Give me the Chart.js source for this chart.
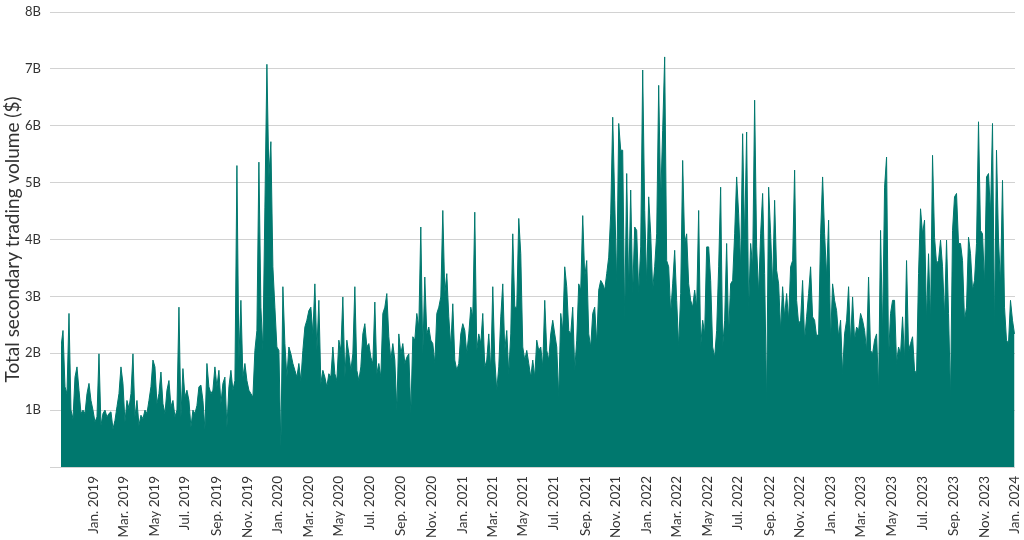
<!DOCTYPE html>
<html>
<head>
<meta charset="utf-8">
<script src="https://cdn.jsdelivr.net/npm/chart.js@4.4.0/dist/chart.umd.min.js"></script>
<style>
  html, body { margin: 0; padding: 0; background: #fff; }
</style>
</head>
<body>
<canvas id="chart" width="1024" height="540"></canvas>
<script>
// first and last sample of the series (samples are evenly spaced between them)
const firstDay = '2018-10-28';
const lastDay = '2023-12-31';
const axisEnd = '2024-01-01';

// total secondary trading volume, billions of $
const volume = [
  2.11, 2.40, 1.41, 1.29, 2.70, 1.00, 0.85, 1.58, 1.76, 1.35,
  0.94, 1.00, 0.94, 1.29, 1.47, 1.17, 1.00, 0.79, 0.88, 1.99,
  0.73, 0.94, 1.00, 0.88, 0.94, 0.97, 0.67, 0.82, 1.06, 1.29,
  1.76, 1.47, 0.79, 1.17, 1.03, 1.29, 1.99, 0.88, 1.17, 0.73,
  0.91, 0.85, 1.00, 0.94, 1.17, 1.41, 1.88, 1.76, 1.11, 1.29,
  1.67, 1.11, 0.94, 1.35, 1.52, 1.06, 1.17, 0.88, 1.00, 2.81,
  0.88, 1.73, 1.23, 1.35, 1.17, 0.70, 1.00, 0.94, 1.08, 1.41,
  1.44, 1.17, 0.67, 1.82, 1.41, 1.29, 1.35, 1.76, 1.41, 1.70,

  1.11, 1.47, 1.58, 0.70, 1.41, 1.70, 1.35, 1.52, 5.30, 1.88,
  2.93, 1.58, 1.82, 1.52, 1.35, 1.29, 1.23, 2.05, 2.40, 5.36,
  2.81, 2.05, 4.57, 7.08, 5.10, 5.72, 3.52, 2.81, 2.11, 2.05,
  0.35, 3.17, 2.17, 1.58, 2.11, 1.99, 1.82, 1.70, 1.58, 1.82,
  1.52, 2.05, 2.46, 2.58, 2.75, 2.81, 2.34, 3.22, 2.05, 2.93,
  1.47, 1.70, 1.58, 1.41, 1.64, 1.58, 2.11, 1.64, 1.52, 2.23,
  2.05, 2.99, 1.58, 2.23, 1.99, 1.70, 1.99, 3.17, 1.70, 1.52,
  1.76, 2.34, 2.52, 2.11, 2.17, 1.93, 1.82, 2.90, 1.64, 1.82,

  1.58, 2.70, 2.81, 3.05, 2.29, 1.88, 2.17, 1.88, 1.00, 2.34,
  1.99, 2.17, 1.82, 1.93, 1.99, 0.94, 2.29, 2.23, 2.70, 2.46,
  4.22, 1.99, 3.34, 2.34, 2.46, 2.23, 2.17, 1.82, 2.70, 2.81,
  2.99, 4.51, 3.05, 3.40, 2.64, 2.11, 2.87, 1.88, 1.70, 1.82,
  2.34, 2.52, 2.40, 1.99, 2.34, 2.81, 2.64, 4.48, 2.05, 2.34,
  2.17, 2.70, 1.76, 1.88, 2.34, 1.70, 3.17, 1.88, 1.35, 1.76,
  2.64, 3.22, 2.05, 2.40, 1.64, 2.34, 4.10, 2.81, 2.81, 4.37,
  3.75, 2.11, 1.88, 2.05, 1.82, 1.58, 1.88, 1.58, 2.23, 2.05,

  2.11, 1.76, 2.93, 2.05, 1.88, 2.34, 2.58, 2.34, 2.11, 1.23,
  2.70, 2.40, 3.52, 3.17, 2.40, 2.34, 2.81, 1.70, 2.23, 3.22,
  3.11, 4.42, 3.34, 3.63, 2.34, 2.11, 2.70, 2.81, 2.17, 3.11,
  3.28, 3.22, 3.11, 3.40, 3.69, 4.45, 6.15, 4.69, 3.22, 6.04,
  5.57, 5.57, 2.58, 5.16, 3.11, 4.87, 3.05, 4.22, 4.16, 3.05,
  3.87, 6.98, 4.51, 3.22, 4.75, 4.10, 3.11, 3.52, 4.10, 6.71,
  4.69, 5.92, 7.21, 3.63, 3.52, 2.70, 3.22, 3.81, 2.93, 2.11,
  3.05, 5.39, 3.93, 4.10, 3.22, 2.93, 2.81, 3.11, 2.81, 4.51,

  2.11, 2.58, 2.34, 3.87, 3.87, 3.28, 2.11, 1.93, 2.40, 3.52,
  4.92, 2.11, 2.58, 3.93, 2.34, 3.22, 3.28, 4.10, 5.10, 4.45,
  3.52, 5.86, 3.99, 5.89, 2.75, 3.93, 3.52, 6.45, 3.87, 3.05,
  4.10, 4.81, 3.40, 1.11, 4.92, 4.10, 3.17, 4.69, 3.46, 3.22,
  2.40, 3.17, 2.64, 3.05, 2.58, 3.52, 3.63, 5.22, 2.93, 2.52,
  2.58, 3.28, 2.23, 2.64, 3.05, 3.52, 2.64, 2.58, 2.29, 2.34,
  4.10, 5.10, 4.10, 3.34, 4.34, 2.23, 3.22, 2.93, 2.75, 2.29,
  2.58, 1.64, 2.34, 2.58, 3.17, 2.17, 2.99, 2.23, 2.46, 2.40,

  2.70, 2.58, 2.40, 2.05, 3.34, 2.05, 1.99, 2.23, 2.34, 1.35,
  4.16, 2.34, 4.92, 5.45, 1.93, 2.70, 2.93, 2.93, 1.82, 2.11,
  1.99, 2.64, 1.88, 3.63, 2.05, 2.17, 2.29, 1.70, 1.64, 3.40,
  4.54, 4.10, 4.34, 2.58, 3.75, 2.58, 5.48, 4.04, 3.58, 3.63,
  3.99, 3.52, 2.64, 3.99, 2.70, 1.23, 4.16, 4.75, 4.81, 3.93,
  3.93, 3.63, 2.58, 2.81, 4.04, 3.75, 3.11, 3.28, 3.93, 6.07,
  4.16, 4.10, 3.22, 5.10, 5.16, 4.45, 6.04, 2.46, 5.57, 3.99,
  3.22, 5.04, 2.81, 2.23, 2.17, 2.93, 2.58, 2.34
];

// x axis ticks
const tickDates = [
  '2019-01-01', '2019-03-01', '2019-05-01', '2019-07-01', '2019-09-01', '2019-11-01',
  '2020-01-01', '2020-03-01', '2020-05-01', '2020-07-01', '2020-09-01', '2020-11-01',
  '2021-01-01', '2021-03-01', '2021-05-01', '2021-07-01', '2021-09-01', '2021-11-01',
  '2022-01-01', '2022-03-01', '2022-05-01', '2022-07-01', '2022-09-01', '2022-11-01',
  '2023-01-01', '2023-03-01', '2023-05-01', '2023-07-01', '2023-09-01', '2023-11-01',
  '2024-01-01'
];
const tickLabels = [
  'Jan. 2019', 'Mar. 2019', 'May 2019', 'Jul. 2019', 'Sep. 2019', 'Nov. 2019',
  'Jan. 2020', 'Mar. 2020', 'May 2020', 'Jul. 2020', 'Sep. 2020', 'Nov. 2020',
  'Jan. 2021', 'Mar. 2021', 'May 2021', 'Jul. 2021', 'Sep. 2021', 'Nov. 2021',
  'Jan. 2022', 'Mar. 2022', 'May 2022', 'Jul. 2022', 'Sep. 2022', 'Nov. 2022',
  'Jan. 2023', 'Mar. 2023', 'May 2023', 'Jul. 2023', 'Sep. 2023', 'Nov. 2023',
  'Jan. 2024'
];

const TEAL = '#00786e';
const DAY = 86400000;
const base = Date.parse('2019-01-01');
const dayOf = (s) => (Date.parse(s) - base) / DAY;

const d0 = dayOf(firstDay);
const d1 = dayOf(lastDay);
const step = (d1 - d0) / (volume.length - 1);
const points = volume.map((v, i) => ({ x: d0 + i * step, y: v }));
const tickDays = tickDates.map(dayOf);

Chart.defaults.font.family = 'Lato, "Noto Sans", sans-serif';
Chart.defaults.font.size = 13;
Chart.defaults.color = '#333';

new Chart(document.getElementById('chart'), {
  type: 'line',
  data: {
    datasets: [{
      data: points,
      fill: 'origin',
      backgroundColor: TEAL,
      borderColor: TEAL,
      borderWidth: 1,
      pointRadius: 0,
      tension: 0
    }]
  },
  options: {
    responsive: false,
    animation: false,
    devicePixelRatio: 1,
    layout: { padding: { top: 12, right: 9, left: 0, bottom: 0 } },
    plugins: {
      legend: { display: false },
      tooltip: { enabled: false }
    },
    scales: {
      x: {
        type: 'linear',
        min: d0,
        max: dayOf(axisEnd),
        afterBuildTicks: (s) => { s.ticks = tickDays.map(v => ({ value: v })); },
        // keep the plot edges where the reference has them
        afterFit: (s) => { s.height = 73; s.paddingLeft = 0; s.paddingRight = 0; },
        grid: { display: false, drawTicks: false },
        border: { display: false },
        ticks: {
          autoSkip: false,
          maxRotation: 90,
          minRotation: 90,
          padding: 9,
          font: { size: 13.5 },
          callback: (v, i) => tickLabels[i]
        }
      },
      y: {
        min: 0,
        max: 8,
        afterFit: (s) => { s.width = 61; s.paddingTop = 0; s.paddingBottom = 0; },
        grid: { color: '#d2d2d2', drawTicks: true, tickLength: 11 },
        border: { display: false },
        ticks: {
          stepSize: 1,
          padding: 9,
          callback: (v) => v ? v + 'B' : ''
        },
        title: {
          display: true,
          text: 'Total secondary trading volume ($)',
          font: { size: 19 },
          padding: { top: 1, bottom: 2 }
        }
      }
    }
  }
});
</script>
</body>
</html>
